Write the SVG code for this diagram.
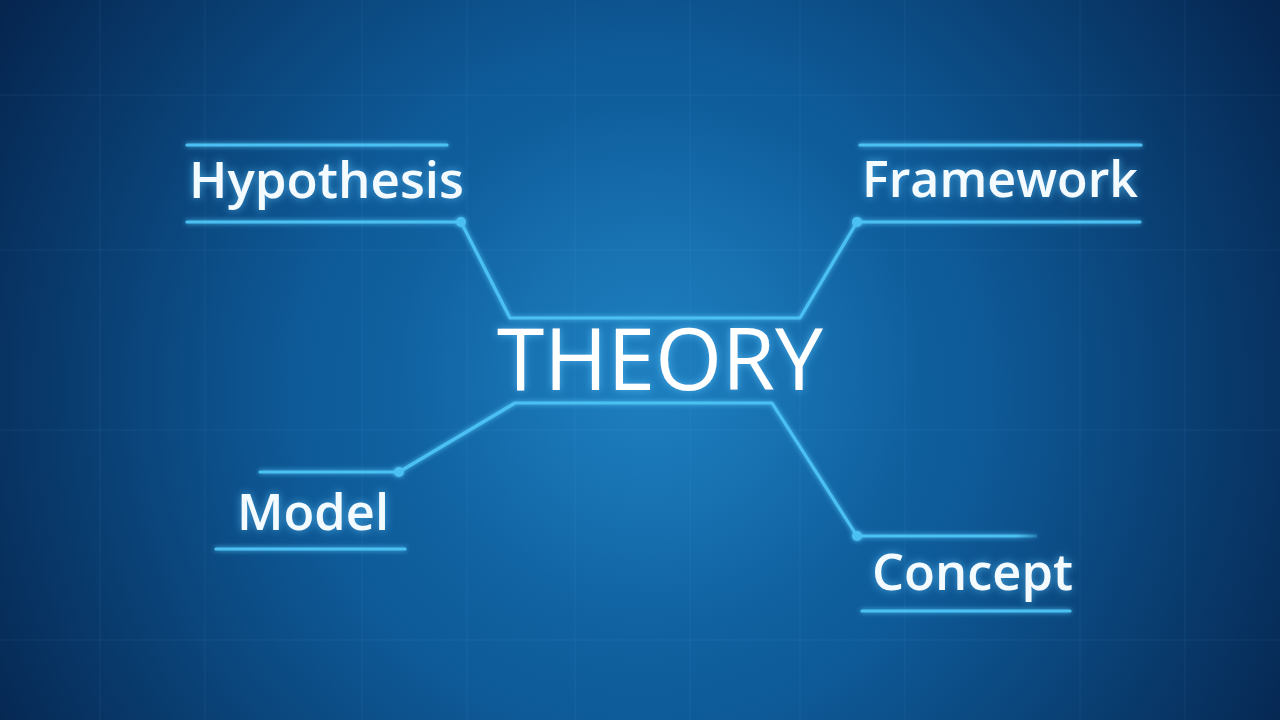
<svg xmlns="http://www.w3.org/2000/svg" width="1280" height="720" viewBox="0 0 1280 720">
<defs>
<radialGradient id="bg" cx="640" cy="390" r="760" gradientUnits="userSpaceOnUse">
<stop offset="0" stop-color="#1673b3"/>
<stop offset="0.45" stop-color="#0e5a98"/>
<stop offset="1" stop-color="#05234c"/>
</radialGradient>
<radialGradient id="halo" cx="660" cy="360" r="260" gradientUnits="userSpaceOnUse">
<stop offset="0" stop-color="#2a8fd0" stop-opacity="0.45"/>
<stop offset="1" stop-color="#2a8fd0" stop-opacity="0"/>
</radialGradient>
<linearGradient id="fadeEnd" x1="857" y1="0" x2="1037" y2="0" gradientUnits="userSpaceOnUse">
<stop offset="0" stop-color="#4cc0f2"/>
<stop offset="0.88" stop-color="#4cc0f2"/>
<stop offset="1" stop-color="#4cc0f2" stop-opacity="0.3"/>
</linearGradient>
<filter id="glow" x="-20%" y="-40%" width="140%" height="180%">
<feGaussianBlur in="SourceAlpha" stdDeviation="4" result="b"/>
<feFlood flood-color="#5cc8ff" flood-opacity="0.7"/>
<feComposite in2="b" operator="in" result="g"/>
<feMerge><feMergeNode in="g"/><feMergeNode in="SourceGraphic"/></feMerge>
</filter>
<filter id="lglow" filterUnits="userSpaceOnUse" x="0" y="0" width="1280" height="720">
<feGaussianBlur in="SourceGraphic" stdDeviation="2.5" result="b"/>
<feMerge><feMergeNode in="b"/><feMergeNode in="SourceGraphic"/></feMerge>
</filter>
</defs>
<style>
.line{stroke:#4cc0f2;stroke-width:3.2;fill:none;stroke-linecap:round;stroke-linejoin:round}
.dot{fill:#4cc0f2}
.lbl{font-family:"Open Sans","Noto Sans","Liberation Sans",sans-serif;font-weight:600;font-size:50px;fill:#f4fbff}
.big{font-family:"Open Sans","Noto Sans","Liberation Sans",sans-serif;font-weight:400;font-size:86px;fill:#ffffff}
.grid{stroke:#6fb6ff;stroke-opacity:0.06;stroke-width:1.5}
</style>
<rect width="1280" height="720" fill="url(#bg)"/>
<rect width="1280" height="720" fill="url(#halo)"/>
<g id="grid" class="grid">
<line x1="100" y1="0" x2="100" y2="720"/>
<line x1="205" y1="0" x2="205" y2="720"/>
<line x1="362" y1="0" x2="362" y2="720"/>
<line x1="467" y1="0" x2="467" y2="720"/>
<line x1="575" y1="0" x2="575" y2="720"/>
<line x1="690" y1="0" x2="690" y2="720"/>
<line x1="800" y1="0" x2="800" y2="720"/>
<line x1="905" y1="0" x2="905" y2="720"/>
<line x1="1080" y1="0" x2="1080" y2="720"/>
<line x1="1185" y1="0" x2="1185" y2="720"/>
<line x1="0" y1="95" x2="1280" y2="95"/>
<line x1="0" y1="250" x2="1280" y2="250"/>
<line x1="0" y1="430" x2="1280" y2="430"/>
<line x1="0" y1="640" x2="1280" y2="640"/>
</g>
<g id="connectors" filter="url(#lglow)">
<polyline class="line" points="461,222 510,318 800,318 857,222"/>
<polyline class="line" points="399,472 515,403 772,403 857,536"/>
<circle class="dot" cx="461" cy="222" r="5"/>
<circle class="dot" cx="857" cy="222" r="5"/>
<circle class="dot" cx="399" cy="472" r="5"/>
<circle class="dot" cx="857" cy="536" r="5"/>
</g>
<g id="theory">
<text class="big" x="497" y="390" textLength="326" lengthAdjust="spacingAndGlyphs" filter="url(#glow)">THEORY</text>
</g>
<g id="hypothesis">
<line class="line" x1="187" y1="145" x2="447" y2="145" filter="url(#lglow)"/>
<line class="line" x1="187" y1="222" x2="461" y2="222" filter="url(#lglow)"/>
<text class="lbl" x="189" y="198" textLength="275" lengthAdjust="spacingAndGlyphs" filter="url(#glow)">Hypothesis</text>
</g>
<g id="framework">
<line class="line" x1="860" y1="145" x2="1141" y2="145" filter="url(#lglow)"/>
<line class="line" x1="857" y1="222" x2="1140" y2="222" filter="url(#lglow)"/>
<text class="lbl" x="862" y="197" textLength="276" lengthAdjust="spacingAndGlyphs" filter="url(#glow)">Framework</text>
</g>
<g id="model">
<line class="line" x1="260" y1="472" x2="399" y2="472" filter="url(#lglow)"/>
<line class="line" x1="216" y1="549" x2="405" y2="549" filter="url(#lglow)"/>
<text class="lbl" x="237" y="530" textLength="152" lengthAdjust="spacingAndGlyphs" filter="url(#glow)">Model</text>
</g>
<g id="concept">
<line x1="857" y1="536" x2="1037" y2="536" stroke="url(#fadeEnd)" stroke-width="3.2" filter="url(#lglow)"/>
<line class="line" x1="862" y1="611" x2="1070" y2="611" filter="url(#lglow)"/>
<text class="lbl" x="872" y="590" textLength="201" lengthAdjust="spacingAndGlyphs" filter="url(#glow)">Concept</text>
</g>
</svg>
